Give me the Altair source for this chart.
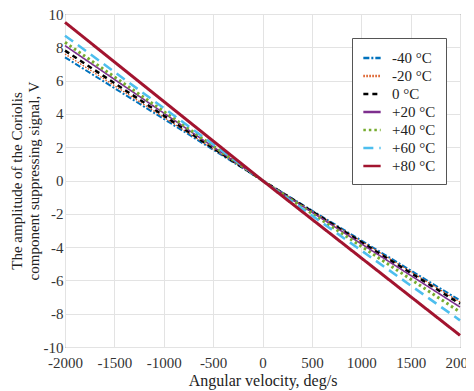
import altair as alt
import pandas as pd

series = ["-40 °C", "-20 °C", "0 °C", "+20 °C", "+40 °C", "+60 °C", "+80 °C"]
x_vals = [-2000, 0, 2000]
y_start = [7.4, 7.6, 7.8, 8.1, 8.3, 8.7, 9.5]
y_end = [-7.2, -7.3, -7.4, -7.6, -7.9, -8.4, -9.3]

colors = ["#0072BD", "#D95319", "#000000", "#7E2F8E", "#77AC30", "#4DBEEE", "#A2142F"]
dashes = [[6, 2, 2, 2], [1.5, 1.5], [5, 4], [1, 0], [2.5, 3], [10, 6], [1, 0]]
widths = [2, 1.3, 2.5, 1.6, 3, 2.5, 3]

rows = []
for i, s in enumerate(series):
    for x, y in zip(x_vals, [y_start[i], 0.0, y_end[i]]):
        rows.append({"T": s, "w": x, "V": y, "o": i, "sw": widths[i]})
df = pd.DataFrame(rows)

font = "Liberation Serif"
label_expr = "'' + datum.value"

chart = alt.Chart(df).mark_line().encode(
    x=alt.X("w:Q", scale=alt.Scale(domain=[-2000, 2000], nice=False),
            axis=alt.Axis(values=list(range(-2000, 2001, 500)), labelExpr=label_expr,
                          labelFlush=False, title="Angular velocity, deg/s")),
    y=alt.Y("V:Q", scale=alt.Scale(domain=[-10, 10], nice=False),
            axis=alt.Axis(values=list(range(-10, 11, 2)), labelExpr=label_expr,
                          labelFlush=False,
                          title=["The amplitude of the Coriolis", "component suppressing signal, V"])),
    color=alt.Color("T:N", sort=series, scale=alt.Scale(domain=series, range=colors), title=None),
    strokeDash=alt.StrokeDash("T:N", sort=series, scale=alt.Scale(domain=series, range=dashes), title=None),
    strokeWidth=alt.StrokeWidth("sw:Q", scale=None),
    order="o:Q",
    detail="T:N",
).properties(
    width=395, height=333,
    autosize=alt.AutoSizeParams(type="none"),
    padding={"left": 57, "top": 6, "right": 6, "bottom": 44},
).configure_axis(
    grid=True, gridColor="#e3e3e3", domain=False,
    labelFont=font, labelFontSize=15, labelColor="#333",
    titleFont=font, titleFontSize=16, titleFontWeight="normal", titleColor="#222",
    ticks=False, labelPadding=3,
).configure_axisX(titlePadding=2, labelPadding=8).configure_axisY(
    titlePadding=2, titleLineHeight=17, titleFontSize=15, labelPadding=2
).configure_view(stroke="#555", strokeWidth=1
).configure_legend(
    orient="none", legendX=287, legendY=24,
    strokeColor="#555", fillColor="white", padding=10,
    labelFont=font, labelFontSize=15, labelColor="#222", labelOffset=10,
    symbolType="stroke", symbolSize=300, symbolStrokeWidth=2.5,
    rowPadding=0, labelLimit=200,
)

chart.save("out.html", embed_options={"renderer": "svg", "actions": False})
